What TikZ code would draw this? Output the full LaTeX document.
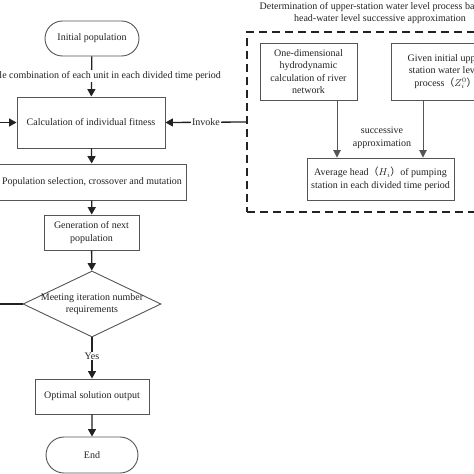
\documentclass[tikz,border=0pt]{standalone}
\usepackage{fontspec}
\setmainfont{Liberation Serif}
\newfontfamily\cjk{Noto Sans CJK SC}
\usetikzlibrary{arrows.meta, positioning, shapes.misc, shapes.geometric}
\definecolor{ink}{HTML}{222222}
\definecolor{edge}{HTML}{555555}
\newcommand{\lp}{{\cjk （}}
\newcommand{\rp}{{\cjk ）}}

\begin{document}
\begin{tikzpicture}[
  x=1pt, y=-1pt,
  every node/.style={font=\fontsize{10}{12.5}\selectfont, text=ink},
  box/.style={draw=edge, line width=0.9pt, align=center, inner sep=0pt},
  term/.style={box, rounded rectangle},
  dec/.style={draw=edge, line width=0.9pt, diamond, inner sep=0pt},
  frame/.style={draw=ink, line width=1.2pt, dash pattern=on 8pt off 5pt},
  arr/.style={-{Triangle[length=7.5pt, width=8pt]}, line width=1.3pt, draw=ink},
  thinarr/.style={-{Triangle[length=7.5pt, width=7.5pt]}, line width=0.9pt, draw=edge},
  lbl/.style={fill=white, inner sep=1pt, align=center}
]
\useasboundingbox (0,0) rectangle (474,474);
\clip (0,0) rectangle (474,474);

% main flow
\node[term, minimum width=94pt, minimum height=35pt] (init) at (92,38.5) {Initial population};
\node[box, minimum width=148pt, minimum height=51pt] (calc) at (91,122.5) {Calculation of individual fitness};
\node[box, minimum width=188pt, minimum height=36pt] (sel) at (92,182) {Population selection, crossover and mutation};
\node[box, minimum width=95pt, minimum height=35pt] (gen) at (91.5,232.5) {Generation of next\\ population};
\node[dec, minimum width=138pt, minimum height=66pt] (meet) at (92,304) {};
\node[align=center] at (meet) {Meeting iteration number\\ requirements};
\node[box, minimum width=114pt, minimum height=35pt] (opt) at (92,396.5) {Optimal solution output};
\node[term, minimum width=92pt, minimum height=36pt] (end) at (92,455) {End};

% head iteration block
\node[align=center] (title) at (380,13) {Determination of upper-station water level process based on\\ head-water level successive approximation};
\node[frame, minimum width=258pt, minimum height=180pt] (blk) at (376,122) {};
\node[box, minimum width=97pt, minimum height=57pt] (hydro) at (308.5,71.5) {One-dimensional\\ hydrodynamic\\ calculation of river\\ network};
\node[box, minimum width=109pt, minimum height=57pt] (given) at (445.5,71.5) {Given initial upper\\ station water level\\ process\lp$Z_i^0$\rp};
\node[box, minimum width=147pt, minimum height=42pt] (avg) at (380.5,179) {Average head\lp$H_i$\rp of pumping\\ station in each divided time period};
\node[align=center] (succ) at (382,138) {successive\\ approximation};

% edges
\draw[arr] (init) -- (calc);
\node[lbl, anchor=east] at (222,76) {Feasible combination of each unit in each divided time period};
\draw[arr] (calc) -- (sel);
\draw[arr] (sel) -- (gen);
\draw[arr] (gen) -- (meet);
\draw[arr] (meet) -- (opt) node[lbl, pos=0.45] {Yes};
\draw[arr] (opt) -- (end);
\draw[arr] (meet.west) -- ++(-40,0) |- (calc.west);
\draw[arr] (blk.west) -- (calc.east) node[lbl, midway] {Invoke};
\draw[thinarr] ([xshift=28.5pt]hydro.south) -- ([xshift=28.5pt]hydro.south |- avg.north);
\draw[thinarr] ([xshift=-22.5pt]given.south) -- ([xshift=-22.5pt]given.south |- avg.north);

\end{tikzpicture}
\end{document}
